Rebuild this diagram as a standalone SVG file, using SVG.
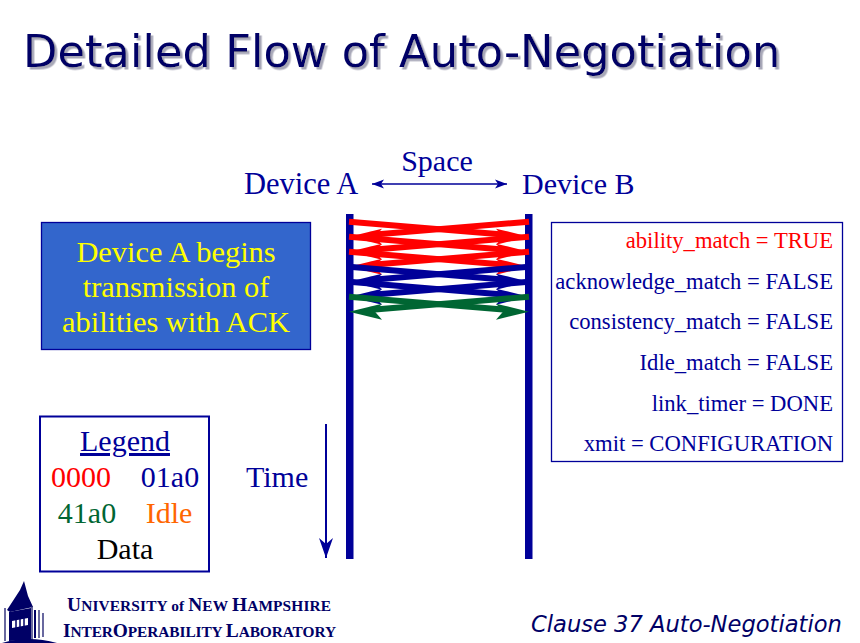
<svg xmlns="http://www.w3.org/2000/svg" width="860" height="643" viewBox="0 0 860 643">
<style>
text{font-family:"Liberation Serif","Times New Roman",serif;fill:#000099}
.t{font-family:"DejaVu Sans",sans-serif;font-size:44.800px;fill:#000066;filter:url(#sh)}
.d{font-size:30px}
.b{font-size:30.400px;fill:#ffff00;text-anchor:middle}
.s{font-size:22.650px;text-anchor:end}
.l{font-size:30px;text-anchor:middle}
.u{font-weight:bold;font-size:15.400px;fill:#000066}
.u tspan{font-size:19.400px}
.u .o{font-size:15.400px}
.red{fill:#ff0000;stroke:#ff0000}
.blu{fill:#000099;stroke:#000099}
.grn{fill:#006633;stroke:#006633}
.a path{fill:none;stroke-width:6}
.a use{stroke:none}
</style>
<defs>
<filter id="sh" x="-2%" y="-10%" width="104%" height="125%"><feDropShadow dx="2.500" dy="2.500" stdDeviation="0.400" flood-color="#a8a8b8"/></filter>
<path id="hr" d="M0 0L-33 -8L-26 0L-33 8Z"/>
<path id="hl" d="M0 0L33 -8L26 0L33 8Z"/>
<marker id="sm" markerUnits="userSpaceOnUse" markerWidth="14" markerHeight="10" refX="12" refY="5" orient="auto-start-reverse"><path d="M12 5L0 0.500L3 5L0 9.500Z" fill="#000099"/></marker>
<marker id="tm" markerUnits="userSpaceOnUse" markerWidth="22" markerHeight="16" refX="20" refY="8" orient="auto"><path d="M20 8L0 1L6 8L0 15Z" fill="#000099"/></marker>
</defs>
<rect width="860" height="643" fill="#fff"/>
<g id="title">
<text class="t" x="23" y="67">Detailed Flow of Auto-Negotiation</text>
</g>
<g id="device-a"><text class="d" x="244" y="194" style="font-size:30.500px">Device A</text></g>
<g id="device-b"><text class="d" x="522" y="194">Device B</text></g>
<g id="space"><text class="d" x="437" y="171" text-anchor="middle">Space</text></g>
<g id="timelines">
<rect x="346" y="214" width="7.500" height="345" fill="#000099"/>
<rect x="525" y="214" width="7.500" height="345" fill="#000099"/>
</g>
<g id="connectors">
<line x1="372" y1="184" x2="507" y2="184" stroke="#000099" stroke-width="1.300" marker-start="url(#sm)" marker-end="url(#sm)"/>
<line x1="326" y1="424" x2="326" y2="558" stroke="#000099" stroke-width="2" marker-end="url(#tm)"/>
<g class="a red">
<path d="M349 221.700L509 235"/><use href="#hr" x="529" y="236.700"/><path d="M529 221.700L369 235"/><use href="#hl" x="349" y="236.700"/>
<path d="M349 236.700L509 250"/><use href="#hr" x="529" y="251.700"/><path d="M529 236.700L369 250"/><use href="#hl" x="349" y="251.700"/>
<path d="M349 251.700L509 265"/><use href="#hr" x="529" y="266.700"/><path d="M529 251.700L369 265"/><use href="#hl" x="349" y="266.700"/>
</g>
<g class="a blu">
<path d="M349 266.700L509 280"/><use href="#hr" x="529" y="281.700"/><path d="M529 266.700L369 280"/><use href="#hl" x="349" y="281.700"/>
<path d="M349 281.700L509 295"/><use href="#hr" x="529" y="296.700"/><path d="M529 281.700L369 295"/><use href="#hl" x="349" y="296.700"/>
</g>
<g class="a grn">
<path d="M349 296.700L509 310"/><use href="#hr" x="529" y="311.700"/><path d="M529 296.700L369 310"/><use href="#hl" x="349" y="311.700"/>
</g>
</g>
<g id="message">
<rect x="41.500" y="222.500" width="269" height="127" fill="#3366cc" stroke="#000099" stroke-width="1.300"/>
<text class="b" x="176" y="261.500">Device A begins</text>
<text class="b" x="176" y="297">transmission of</text>
<text class="b" x="176" y="332">abilities with ACK</text>
</g>
<g id="state">
<rect x="551.500" y="222.500" width="291" height="239" fill="#fff" stroke="#000099" stroke-width="1.300"/>
<text class="s" x="833" y="248" style="fill:#ff0000">ability_match = TRUE</text>
<text class="s" x="833" y="289">acknowledge_match = FALSE</text>
<text class="s" x="833" y="329">consistency_match = FALSE</text>
<text class="s" x="833" y="370">Idle_match = FALSE</text>
<text class="s" x="833" y="411">link_timer = DONE</text>
<text class="s" x="833" y="451">xmit = CONFIGURATION</text>
</g>
<g id="legend">
<rect x="40" y="416.500" width="169" height="155" fill="#fff" stroke="#000099" stroke-width="2"/>
<text class="l" x="125" y="451" text-decoration="underline">Legend</text>
<text class="l" x="81" y="487" style="fill:#ff0000">0000</text>
<text class="l" x="170" y="487">01a0</text>
<text class="l" x="87" y="523" style="fill:#006633">41a0</text>
<text class="l" x="169" y="523" style="fill:#ff6600">Idle</text>
<text class="l" x="125" y="559" style="fill:#000">Data</text>
</g>
<g id="time"><text class="d" x="246" y="487">Time</text></g>
<g id="logo">
<path d="M24 581L28 596L33 607L10 612L7 610L20 590Z" fill="#000066"/>
<path d="M9 612L31 608V640L9 641Z" fill="#000066"/>
<path d="M12 621L28 618V625L12 628Z" fill="#fff"/>
<path d="M16 620V628M20 619V627M24 618V626" stroke="#000066" stroke-width="1.500"/>
<path d="M5 608V641M32 606V640M39 610V638M43 613V637" stroke="#2a2a77" stroke-width="1.400" fill="none"/>
<path d="M35 610V638" stroke="#000066" stroke-width="2" fill="none"/>
<path d="M2 643Q28 635 57 643Z" fill="#000066"/>
</g>
<g id="lab">
<text class="u" x="67" y="611" textLength="264"><tspan>U</tspan>NIVERSITY <tspan class="o">of</tspan> <tspan>N</tspan>EW <tspan>H</tspan>AMPSHIRE</text>
<text class="u" x="63" y="637" textLength="273"><tspan>I</tspan>NTER<tspan>O</tspan>PERABILITY <tspan>L</tspan>ABORATORY</text>
</g>
<g id="footer"><text x="531" y="632" style="font-family:'DejaVu Sans',sans-serif;font-style:italic;font-size:22.600px;fill:#000066">Clause 37 Auto-Negotiation</text></g>
</svg>
